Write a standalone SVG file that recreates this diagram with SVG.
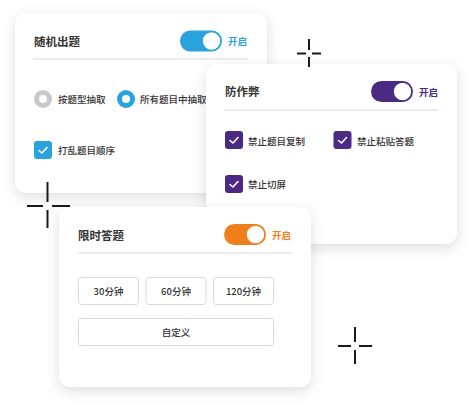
<svg xmlns="http://www.w3.org/2000/svg" width="474" height="415" viewBox="0 0 474 415">
<defs>
<filter id="sh" x="-20%" y="-20%" width="140%" height="150%">
<feDropShadow dx="0" dy="4" stdDeviation="7" flood-color="#000" flood-opacity="0.13"/>
</filter>
<style>
text{font-family:"Noto Sans CJK SC","Noto Sans",sans-serif;fill:#333}
.t{font-size:11.5px;font-weight:700}
.b{font-size:9.5px;font-weight:500}
.on{font-size:9.5px;font-weight:700}
.card{fill:#fff;filter:url(#sh)}
.hl{stroke:#e6e6e6;stroke-width:1.5}
.ck{fill:none;stroke:#fff;stroke-width:1.6;stroke-linecap:round;stroke-linejoin:round}
.btn{fill:#fff;stroke:#d9d9d9;stroke-width:1}
.x{stroke:#1a1a1a;stroke-width:2}
</style>
</defs>
<rect width="474" height="415" fill="#fff"/>

<g id="card-random">
<rect class="card" x="15" y="13" width="252" height="180" rx="12"/>
<text class="t" x="34" y="46">随机出题</text>
<rect x="180" y="30.5" width="42" height="21" rx="10.5" fill="#2aa3dc"/>
<circle cx="211.5" cy="41" r="9.3" fill="#fff" stroke="#2aa3dc" stroke-width="1.2"/>
<text class="on" x="228" y="45" style="fill:#2aa3dc">开启</text>
<line class="hl" x1="33" y1="59" x2="248" y2="59"/>
<circle cx="43" cy="99" r="9" fill="#c9c9c9"/>
<circle cx="43" cy="99" r="4" fill="#fff"/>
<text class="b" x="58" y="102.5">按题型抽取</text>
<circle cx="126" cy="99" r="9" fill="#2aa3dc"/>
<circle cx="126" cy="99" r="4" fill="#fff"/>
<text class="b" x="140" y="102.5">所有题目中抽取</text>
<rect x="34" y="141" width="18" height="18" rx="3" fill="#2aa3dc"/>
<path class="ck" d="M39 150.5 L42 153 L47 147.5"/>
<text class="b" x="58" y="153.5">打乱题目顺序</text>
</g>

<g id="card-anticheat">
<rect class="card" x="206" y="64" width="251" height="180" rx="12"/>
<text class="t" x="225" y="96">防作弊</text>
<rect x="371" y="81" width="42" height="21" rx="10.5" fill="#4a2a83"/>
<circle cx="402.5" cy="91.5" r="9.3" fill="#fff" stroke="#4a2a83" stroke-width="1.2"/>
<text class="on" x="419" y="95.5" style="fill:#4a2a83">开启</text>
<line class="hl" x1="224" y1="110" x2="438" y2="110"/>
<rect x="225" y="131" width="18" height="18" rx="3" fill="#4a2a83"/>
<path class="ck" d="M230 140.5 L233 143 L238 137.5"/>
<text class="b" x="248" y="144.5">禁止题目复制</text>
<rect x="333.5" y="131" width="18" height="18" rx="3" fill="#4a2a83"/>
<path class="ck" d="M338.5 140.5 L341.5 143 L346.5 137.5"/>
<text class="b" x="357" y="144.5">禁止粘贴答题</text>
<rect x="225" y="175" width="18" height="18" rx="3" fill="#4a2a83"/>
<path class="ck" d="M230 184.5 L233 187 L238 181.5"/>
<text class="b" x="248" y="188">禁止切屏</text>
</g>

<g id="card-timer">
<rect class="card" x="59" y="207" width="252" height="180" rx="12"/>
<text class="t" x="78" y="240">限时答题</text>
<rect x="224" y="224" width="42" height="21" rx="10.5" fill="#ef7f1d"/>
<circle cx="255.5" cy="234.5" r="9.3" fill="#fff" stroke="#ef7f1d" stroke-width="1.2"/>
<text class="on" x="272" y="239" style="fill:#ef7f1d">开启</text>
<line class="hl" x1="78" y1="253" x2="292" y2="253"/>
<rect class="btn" x="78.5" y="277.5" width="60" height="27" rx="3"/>
<text class="b" x="108.5" y="294.5" text-anchor="middle">30分钟</text>
<rect class="btn" x="146" y="277.5" width="60" height="27" rx="3"/>
<text class="b" x="176" y="294.5" text-anchor="middle">60分钟</text>
<rect class="btn" x="213.5" y="277.5" width="60" height="27" rx="3"/>
<text class="b" x="243.5" y="294.5" text-anchor="middle">120分钟</text>
<rect class="btn" x="78.5" y="318.5" width="195" height="27" rx="3"/>
<text class="b" x="176" y="335.5" text-anchor="middle">自定义</text>
</g>

<g id="crosshairs">
<path class="x" d="M309 39 V50 M309 57 V67 M297 53.5 H306 M312 53.5 H321"/>
<path class="x" d="M355 327 V342 M355 350 V364 M338 346 H351 M359 346 H372"/>
<path class="x" d="M47.5 182 V202 M47.5 210 V228 M27 206 H43 M52 206 H70"/>
</g>
</svg>
